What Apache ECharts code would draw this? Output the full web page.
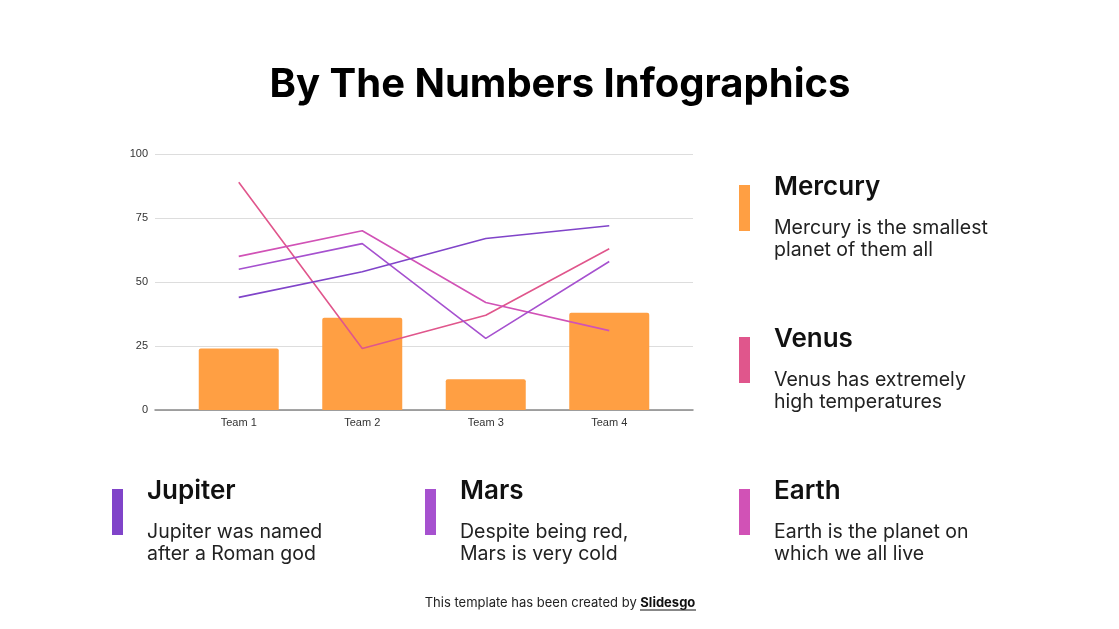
<!DOCTYPE html>
<html>
<head>
<meta charset="utf-8">
<script src="https://cdn.jsdelivr.net/npm/echarts@6/dist/echarts.min.js"></script>
<style>
  html, body { margin: 0; padding: 0; background: #fff; }
  #main { width: 1119px; height: 629px; }
</style>
</head>
<body>
<div id="main"></div>
<script>
var teams = ['Team 1', 'Team 2', 'Team 3', 'Team 4'];
var mercury = [24, 36, 12, 38];
var venus = [89, 24, 37, 63];
var earth = [60, 70, 42, 31];
var mars = [55, 65, 28, 58];
var jupiter = [44, 54, 67, 72];

var colors = {
    mercury: '#ff9f43',
    venus: '#e0568c',
    earth: '#d152b6',
    mars: '#a651cf',
    jupiter: '#8044c9'
};

var font = 'Inter, "Open Sans", sans-serif';

// legend blocks: marker + title + two lines of text
function block(x, y, color, title, line1, line2) {
    return [
        { type: 'rect', shape: { x: x, y: y, width: 11, height: 46 }, style: { fill: color } },
        { type: 'text', x: x + 35, y: y + 2, style: { text: title, font: '600 26px ' + font, fill: '#111', verticalAlign: 'middle' } },
        { type: 'text', x: x + 35, y: y + 43, style: { text: line1, font: '19.5px ' + font, fill: '#222', verticalAlign: 'middle' } },
        { type: 'text', x: x + 35, y: y + 65, style: { text: line2, font: '19.5px ' + font, fill: '#222', verticalAlign: 'middle' } }
    ];
}

var graphics = [].concat(
    [{ type: 'text', x: 560, y: 85, style: { text: 'By The Numbers Infographics', font: 'bold 40px ' + font, fill: '#000', align: 'center', verticalAlign: 'middle' } }],
    block(739, 185, colors.mercury, 'Mercury', 'Mercury is the smallest', 'planet of them all'),
    block(739, 337, colors.venus, 'Venus', 'Venus has extremely', 'high temperatures'),
    block(112, 489, colors.jupiter, 'Jupiter', 'Jupiter was named', 'after a Roman god'),
    block(425, 489, colors.mars, 'Mars', 'Despite being red,', 'Mars is very cold'),
    block(739, 489, colors.earth, 'Earth', 'Earth is the planet on', 'which we all live'),
    [{
        type: 'text', x: 560, y: 603,
        style: {
            text: '{n|This template has been created by }{b|Slidesgo}',
            align: 'center', verticalAlign: 'middle',
            rich: {
                n: { fontSize: 13, fontFamily: font, fill: '#222' },
                b: { fontSize: 13, fontFamily: font, fontWeight: 'bold', fill: '#111' }
            }
        }
    },
    { type: 'line', shape: { x1: 640, y1: 610, x2: 696, y2: 610 }, style: { stroke: '#111', lineWidth: 1 } }]
);

var myChart = echarts.init(document.getElementById('main'));

var option = {
    animation: false,
    grid: [
        { left: 155, right: 426, top: 154, bottom: 219 },
        { left: 177, right: 448, top: 154, bottom: 219 }
    ],
    xAxis: [
        {
            gridIndex: 0, type: 'value', min: 0, max: 1,
            axisLine: { show: true, onZero: false, lineStyle: { color: '#888', width: 1.5 } },
            axisTick: { show: false }, axisLabel: { show: false }, splitLine: { show: false }
        },
        {
            gridIndex: 1, type: 'category', data: teams,
            axisLine: { show: false }, axisTick: { show: false },
            axisLabel: { color: '#333', fontSize: 11, fontFamily: 'Arial, sans-serif', margin: 7 }
        }
    ],
    yAxis: [
        {
            gridIndex: 0, type: 'value', min: 0, max: 100, interval: 25,
            axisLine: { show: false }, axisTick: { show: false },
            axisLabel: { color: '#333', fontSize: 11, fontFamily: 'Arial, sans-serif', margin: 7 },
            splitLine: { lineStyle: { color: '#dddddd', width: 1 } }
        },
        {
            gridIndex: 1, type: 'value', min: 0, max: 100, show: false,
            splitLine: { show: false }
        }
    ],
    series: [
        {
            name: 'Mercury', type: 'bar', xAxisIndex: 1, yAxisIndex: 1,
            data: mercury, barWidth: 80,
            itemStyle: { color: colors.mercury, borderRadius: [2, 2, 0, 0] }
        },
        { name: 'Venus', type: 'line', xAxisIndex: 1, yAxisIndex: 1, data: venus, symbol: 'none', lineStyle: { color: colors.venus, width: 1.6 } },
        { name: 'Earth', type: 'line', xAxisIndex: 1, yAxisIndex: 1, data: earth, symbol: 'none', lineStyle: { color: colors.earth, width: 1.6 } },
        { name: 'Mars', type: 'line', xAxisIndex: 1, yAxisIndex: 1, data: mars, symbol: 'none', lineStyle: { color: colors.mars, width: 1.6 } },
        { name: 'Jupiter', type: 'line', xAxisIndex: 1, yAxisIndex: 1, data: jupiter, symbol: 'none', lineStyle: { color: colors.jupiter, width: 1.6 } }
    ],
    graphic: graphics
};

myChart.setOption(option);
window.addEventListener('resize', function () {
    myChart.resize();
});
</script>
</body>
</html>
